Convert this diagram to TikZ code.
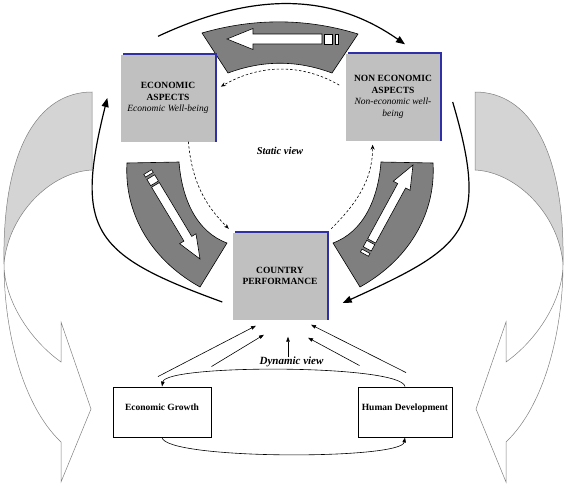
\documentclass[tikz,border=0pt]{standalone}
\usepackage{fontspec}
\setmainfont{Liberation Serif}
\usetikzlibrary{arrows.meta,calc}
\definecolor{boxgray}{HTML}{C0C0C0}
\definecolor{bandgray}{HTML}{7F7F7F}
\definecolor{sidegray}{HTML}{D4D4D4}
\definecolor{edgeblue}{HTML}{2F2FA8}

\begin{document}
\begin{tikzpicture}[
    x=1pt, y=-1pt,
    aspect/.style={fill=boxgray, minimum width=95pt, minimum height=87pt, align=center, inner sep=2pt, font=\fontsize{9.5}{11.5}\selectfont\bfseries},
    plainbox/.style={draw, line width=0.9pt, minimum width=#1, minimum height=50pt, text depth=10pt, font=\fontsize{9.5}{11.5}\selectfont\bfseries},
    blueedge/.style={draw=edgeblue, line width=2pt},
    band/.style={draw, fill=bandgray, line width=0.6pt},
    bigarrow/.style={-{Triangle[length=9pt,width=7pt]}, line width=1.2pt},
    thinarrow/.style={-{Triangle[length=5pt,width=3.5pt]}, line width=0.6pt},
    dasharrow/.style={-{Stealth[length=5pt,width=4pt]}, line width=0.6pt, dash pattern=on 2.5pt off 2pt},
    viewlabel/.style={font=\fontsize{11}{13}\selectfont\bfseries\itshape},
    stripearrow/.pic={
      \draw[fill=white, line width=0.6pt] (0,0) -- (26,-10.5) -- (26,-5) -- (95,-5) -- (95,5) -- (26,5) -- (26,10.5) -- cycle;
      \draw[fill=white, line width=0.6pt] (97,-5) rectangle (105,5) (108,-5) rectangle (111.5,5);
    },
    sidearrow/.pic={
      \draw[fill=sidegray, draw=gray, line width=0.5pt] (92,92) .. controls (38,92) and (2,150) .. (4,264) .. controls (8,215) and (50,172) .. (92,170) -- cycle;
      \draw[fill=white, draw=gray, line width=0.5pt] (4,264) .. controls (4,330) and (22,405) .. (61,442) -- (61,482) -- (91,409) -- (61,322) -- (61,362) .. controls (30,340) and (4,300) .. (4,264) -- cycle;
    }
]
\useasboundingbox (0,0) rectangle (568,485);

% Ribbon arrows on both sides
\pic at (0,0) {sidearrow};
\pic[xscale=-1] at (567,0) {sidearrow};

% Curved bands between the aspects
\draw[band] (202,33) .. controls (254,18) and (306,18) .. (358,34) -- (332,73) .. controls (297,60) and (263,60) .. (228,73) -- cycle;
\draw[band] (127,163) -- (179,162) .. controls (182,200) and (197,232) .. (227,243) -- (200,287) .. controls (148,258) and (124,210) .. (127,163) -- cycle;
\draw[band] (433,163) -- (381,162) .. controls (378,200) and (363,232) .. (333,243) -- (360,287) .. controls (412,258) and (436,210) .. (433,163) -- cycle;

% White striped arrows in the bands
\pic at (227,39) {stripearrow};
\pic[rotate=121, scale=0.91] at (200,259) {stripearrow};
\pic[rotate=-118.6, scale=0.91] at (413,165) {stripearrow};

% Static view boxes
\node[aspect] (econ) at (168,98) {ECONOMIC\\ASPECTS\\{\mdseries\itshape Economic Well-being}};
\node[aspect] (ne) at (393,97) {NON ECONOMIC\\ASPECTS\\{\mdseries\itshape Non-economic well-}\\{\mdseries\itshape being}};
\node[aspect] (cp) at (280,276) {COUNTRY\\PERFORMANCE};
\foreach \b in {econ,ne,cp}
  \draw[blueedge] ([xshift=3pt]\b.north west) -- (\b.north east) -- (\b.south east);

\node[viewlabel, font=\fontsize{10.5}{12}\selectfont\bfseries\itshape] (static) at (280,151) {Static view};

% Dashed links
\draw[dasharrow, shorten <=7pt, shorten >=6pt] (ne.170) to[out=150, in=30] (econ.10);
\draw[dasharrow, shorten >=5pt] (econ.-65) to[out=-85, in=135] (cp.north west);
\draw[dasharrow, shorten <=5pt, shorten >=4pt] (cp.north east) to[out=45, in=-90] (ne.-115);

% Big loop arrows
\draw[bigarrow] ($(econ.north)+(-10,-18)$) to[out=25, in=145] ($(ne.north)+(12,-9)$);
\draw[bigarrow] ($(cp.west)+(-10,26)$) to[out=160, in=-104, looseness=1.5] ($(econ.west)+(-13,0)$);
\draw[bigarrow] ($(ne.east)+(12,5)$) to[out=-73.6, in=24.5, looseness=1.5] ($(cp.east)+(15,27)$);

% Dynamic view
\node[plainbox=98pt] (eg) at (162,412) {Economic Growth};
\node[plainbox=94pt] (hd) at (405,412) {Human Development};
\node[viewlabel] (dyn) at (291.5,362) {Dynamic view};

\draw[thinarrow] (hd.north) to[out=100, in=80, looseness=0.24] (eg.north);
\draw[thinarrow] (eg.south) to[out=-80, in=-100, looseness=0.24] (hd.south);

\draw[thinarrow] ($(eg.north)+(-4,-10)$) -- ($(cp.south)+(-24,6)$);
\draw[thinarrow] ($(eg.north east)+(0,-20)$) -- ($(cp.south)+(-16,15)$);
\draw[thinarrow] ($(dyn.north)+(-3.5,4)$) -- ($(cp.south)+(8,17)$);
\draw[thinarrow] ($(hd.north west)+(2,-21)$) -- ($(cp.south)+(28,18)$);
\draw[thinarrow] ($(hd.north)+(1,-14)$) -- ($(cp.south)+(31,5)$);

\end{tikzpicture}
\end{document}
